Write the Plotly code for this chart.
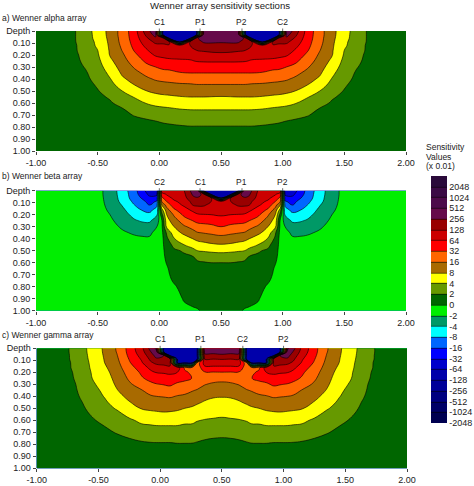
import numpy as np
import plotly.graph_objects as go

# Sensitivity values are stored as band positions:
# 0 -> 0, 1 -> 2, 2 -> 4, 3 -> 8 ... 11 -> 2048 and the same for negatives
depths = [0, .03, .06, .09, .12, .16, .2, .25, .3, .35, .4, .45, .5, .55, .6, .65, .7, .75, .8, .9, 1]

level_labels = ['-2048', '-1024', '-512', '-256', '-128', '-64', '-32', '-16', '-8', '-4', '-2', '0',
                '2', '4', '8', '16', '32', '64', '128', '256', '512', '1024', '2048']
band_colors = ['#000050', '#000066', '#000080', '#000099', '#0000aa', '#0000cc', '#0000ff',
               '#0066ff', '#00ffff', '#009966', '#00ee00', '#006600', '#669900', '#ffff00', '#a86a00',
               '#ff6600', '#ff0000', '#cc0000', '#990000', '#660a4a', '#4d0a4a', '#3b0a45', '#2a0a3a']

x_ticks = [-1, -.5, 0, .5, 1, 1.5, 2]
x_ticktext = ['-1.00', '-0.50', '0.00', '0.50', '1.00', '1.50', '2.00']
y_ticks = [0, .1, .2, .3, .4, .5, .6, .7, .8, .9, 1]
y_ticktext = ['Depth', '0.10', '0.20', '0.30', '0.40', '0.50', '0.60', '0.70', '0.80', '0.90', '1.00']

electrode_x = [0, .33, .67, 1]
alpha_electrodes = ['C1', 'P1', 'P2', 'C2']
beta_electrodes = ['C2', 'C1', 'P1', 'P2']
gamma_electrodes = ['C1', 'P1', 'C2', 'P2']

# left half of each section, one list per x position, top to bottom
alpha_x = [-1, -.8, -.7, -.6, -.5, -.4, -.3, -.2, -.1, -.03, .03, .08, .165, .25, .30, .36, .5]
alpha_cols = [
    [.45, .45, .45, .45, .45, .45, .45, .45, .4, .4, .4, .4, .4, .4, .4, .35, .35, .35, .35, .3, .3],
    [.6, .6, .6, .6, .6, .55, .55, .55, .5, .5, .5, .45, .45, .45, .45, .4, .4, .4, .4, .35, .35],
    [.85, .85, .85, .85, .8, .8, .75, .7, .65, .6, .55, .5, .5, .5, .45, .45, .4, .4, .4, .35, .35],
    [1.55, 1.55, 1.55, 1.5, 1.45, 1.4, 1.3, 1.2, 1.05, .9, .8, .7, .6, .55, .5, .5, .45, .45, .4, .35, .35],
    [2.4, 2.35, 2.3, 2.2, 2.15, 2.0, 1.9, 1.75, 1.6, 1.45, 1.3, 1.1, .95, .8, .7, .6, .55, .5, .45, .4, .35],
    [3.3, 3.3, 3.25, 3.2, 3.15, 3.1, 3.05, 2.8, 2.5, 2.2, 1.95, 1.67, 1.39, 1.1, .9, .75, .65, .55, .5, .4, .35],
    [4.4, 4.4, 4.35, 4.3, 4.2, 4.05, 3.85, 3.6, 3.4, 3.15, 2.85, 2.45, 2.0, 1.65, 1.3, .95, .8, .65, .55, .45, .4],
    [5.6, 5.55, 5.5, 5.4, 5.3, 5.1, 4.8, 4.5, 4.1, 3.75, 3.35, 3.0, 2.55, 2.05, 1.7, 1.35, 1.05, .8, .65, .5, .4],
    [7.6, 7.3, 6.9, 6.6, 6.3, 5.95, 5.65, 5.2, 4.75, 4.25, 3.85, 3.45, 3.0, 2.5, 2.05, 1.7, 1.25, .9, .7, .5, .4],
    [8.8, 8.4, 7.8, 7.2, 6.8, 6.4, 6.1, 5.55, 5.0, 4.5, 4.1, 3.65, 3.2, 2.7, 2.2, 1.8, 1.35, 1.0, .75, .5, .4],
    [-6, -6, 7.9, 7.2, 6.85, 6.5, 6.2, 5.75, 5.2, 4.7, 4.2, 3.75, 3.3, 2.8, 2.3, 1.85, 1.5, 1.1, .8, .5, .4],
    [-6, -6, -6, 7.3, 6.9, 6.55, 6.3, 5.8, 5.25, 4.75, 4.25, 3.8, 3.35, 2.85, 2.35, 1.9, 1.55, 1.15, .85, .5, .4],
    [-6, -6, -6, -6, 7.0, 6.6, 6.35, 5.85, 5.35, 4.95, 4.4, 3.85, 3.4, 2.95, 2.45, 2.0, 1.6, 1.25, .9, .5, .4],
    [-6, -6, -6, 7.2, 7.0, 6.7, 6.4, 5.9, 5.35, 5.0, 4.4, 3.9, 3.45, 3.0, 2.5, 2.05, 1.65, 1.3, .95, .55, .4],
    [-6, -6, 7.8, 7.6, 7.35, 7.0, 6.6, 6.05, 5.4, 5.0, 4.45, 3.95, 3.5, 3.0, 2.5, 2.05, 1.7, 1.3, .95, .55, .4],
    [9, 8.8, 8.5, 8.1, 7.7, 7.1, 6.7, 6.1, 5.45, 5.0, 4.5, 3.95, 3.5, 3.0, 2.5, 2.05, 1.7, 1.3, .95, .55, .4],
    [8.9, 8.7, 8.4, 8.1, 7.7, 7.2, 6.8, 6.1, 5.5, 5.0, 4.5, 3.95, 3.5, 2.95, 2.55, 2.05, 1.7, 1.3, .95, .55, .4],
]

beta_x = [-1, -.6, -.47, -.4, -.3, -.2, -.14, -.08, -.02, .02, .06, .12, .2, .27, .31, .36, .42, .5]
beta_cols = [
    [-.3, -.3, -.3, -.3, -.3, -.3, -.3, -.3, -.3, -.3, -.3, -.3, -.3, -.3, -.3, -.3, -.3, -.3, -.3, -.3, -.3],
    [-.5, -.5, -.5, -.5, -.45, -.45, -.45, -.4, -.4, -.35, -.35, -.35, -.3, -.3, -.3, -.3, -.3, -.3, -.3, -.3, -.3],
    [-.9, -.9, -.88, -.85, -.8, -.75, -.7, -.65, -.6, -.55, -.5, -.45, -.4, -.4, -.35, -.35, -.3, -.3, -.3, -.3, -.3],
    [-1.45, -1.45, -1.4, -1.35, -1.3, -1.15, -1.0, -.85, -.75, -.65, -.6, -.5, -.45, -.4, -.35, -.35, -.3, -.3, -.3, -.3, -.3],
    [-2.45, -2.4, -2.35, -2.25, -2.05, -1.8, -1.6, -1.35, -1.1, -.9, -.75, -.65, -.55, -.5, -.45, -.4, -.35, -.3, -.3, -.3, -.3],
    [-3.7, -3.6, -3.5, -3.25, -3.0, -2.65, -2.3, -1.9, -1.5, -1.1, -.85, -.7, -.6, -.5, -.45, -.4, -.35, -.3, -.3, -.3, -.3],
    [-4.6, -4.45, -4.1, -3.75, -3.45, -3.05, -2.6, -2.1, -1.6, -1.15, -.9, -.7, -.6, -.5, -.45, -.4, -.35, -.3, -.3, -.3, -.3],
    [-5.6, -5.2, -4.8, -4.3, -4.0, -3.3, -2.75, -2.15, -1.6, -1.15, -.9, -.7, -.6, -.5, -.45, -.4, -.35, -.3, -.3, -.3, -.3],
    [-6, -5.2, -4.5, -3.9, -3.2, -2.6, -2.1, -1.5, -1.0, -.75, -.6, -.5, -.4, -.35, -.3, -.3, -.25, -.25, -.25, -.25, -.25],
    [6.5, 5.5, 4.8, 4.1, 3.0, 1.6, .7, -.1, -.2, -.25, -.3, -.3, -.3, -.3, -.3, -.3, -.3, -.3, -.3, -.3, -.3],
    [6.6, 6.1, 5.6, 5.0, 4.4, 3.6, 3.0, 2.6, 2.2, 1.15, .8, .55, .35, .2, .05, -.1, -.2, -.25, -.3, -.3, -.3],
    [6.9, 6.6, 6.25, 5.85, 5.5, 4.85, 4.15, 3.55, 3.0, 2.6, 1.95, 1.25, .85, .7, .55, .4, .3, .1, -.1, -.25, -.3],
    [6.95, 6.8, 6.65, 6.35, 6.15, 5.6, 5.2, 4.55, 3.85, 3.2, 2.6, 2.0, 1.1, .85, .75, .65, .55, .4, .3, .05, -.15],
    [8.4, 8.1, 7.8, 7.3, 7.0, 6.2, 5.6, 5.0, 4.3, 3.65, 3.0, 2.4, 1.7, .95, .85, .75, .65, .55, .45, .2, -.1],
    [8.8, 8.5, 7.9, 7.5, 7.15, 6.45, 5.9, 5.25, 4.6, 3.95, 3.25, 2.6, 2.0, 1.2, .9, .8, .7, .6, .5, .25, -.05],
    [-6, 7.6, 7.5, 7.3, 7.1, 6.6, 5.95, 5.3, 4.7, 4.05, 3.4, 2.7, 2.1, 1.3, .95, .85, .75, .65, .55, .35, .1],
    [-6, -6, 7.2, 7.0, 6.75, 6.4, 6.0, 5.35, 4.8, 4.15, 3.55, 2.85, 2.2, 1.4, 1.0, .9, .8, .7, .6, .4, .2],
    [-6, -6, -6, 6.95, 6.7, 6.35, 6.1, 5.6, 5.0, 4.3, 3.65, 2.95, 2.25, 1.5, 1.0, .9, .8, .7, .6, .4, .2],
]

gamma_x = [-1, -.8, -.75, -.65, -.55, -.45, -.35, -.25, -.15, -.08, -.03, .03, .08, .14, .2, .26, .3, .36, .43, .5]
gamma_cols = [
    [.45, .45, .45, .45, .45, .45, .45, .45, .4, .4, .4, .4, .4, .4, .4, .35, .35, .35, .35, .3, .3],
    [.6, .6, .6, .55, .55, .5, .5, .45, .45, .4, .4, .4, .35, .35, .35, .3, .3, .3, .3, .3, .3],
    [.92, .92, .9, .9, .85, .85, .8, .75, .7, .65, .6, .55, .5, .5, .45, .45, .4, .4, .4, .35, .35],
    [1.6, 1.6, 1.55, 1.5, 1.45, 1.4, 1.3, 1.25, 1.15, 1.1, 1.03, .9, .8, .7, .6, .55, .5, .45, .45, .4, .35],
    [2.33, 2.3, 2.28, 2.25, 2.2, 2.15, 2.08, 2.0, 1.85, 1.7, 1.55, 1.4, 1.25, 1.08, .9, .75, .65, .55, .5, .45, .4],
    [3.17, 3.15, 3.1, 3.05, 3.0, 2.85, 2.7, 2.55, 2.4, 2.2, 2.05, 1.85, 1.65, 1.45, 1.25, 1.0, .85, .7, .6, .5, .4],
    [4.1, 4.05, 3.95, 3.85, 3.75, 3.6, 3.45, 3.3, 3.15, 2.95, 2.7, 2.4, 2.1, 1.75, 1.5, 1.25, 1.05, .85, .7, .55, .45],
    [5.34, 5.3, 5.2, 5.05, 4.9, 4.65, 4.4, 4.15, 3.85, 3.55, 3.25, 2.95, 2.6, 2.25, 1.85, 1.6, 1.3, 1.0, .8, .6, .45],
    [6.75, 6.6, 6.35, 6.1, 5.9, 5.45, 5.15, 4.9, 4.45, 3.95, 3.7, 3.35, 3.05, 2.7, 2.2, 1.85, 1.5, 1.15, .85, .6, .45],
    [8.3, 7.9, 7.5, 7.15, 6.85, 6.25, 5.75, 5.25, 4.8, 4.35, 3.9, 3.55, 3.15, 2.75, 2.3, 1.9, 1.55, 1.2, .9, .6, .45],
    [9.2, 8.8, 8.35, 7.85, 7.2, 6.6, 6.05, 5.5, 4.95, 4.5, 4.0, 3.6, 3.2, 2.8, 2.35, 1.95, 1.6, 1.25, .9, .6, .45],
    [-6, -6, 8.0, 7.8, 7.3, 6.7, 6.1, 5.55, 5.05, 4.55, 4.05, 3.65, 3.25, 2.85, 2.4, 1.95, 1.6, 1.25, .9, .6, .45],
    [-6, -6, -6, 7.6, 7.3, 6.85, 6.2, 5.6, 5.15, 4.6, 4.1, 3.65, 3.25, 2.8, 2.4, 1.95, 1.6, 1.25, .9, .6, .45],
    [-6, -6, -6, -6, -6, 6.55, 6.0, 5.4, 4.85, 4.4, 3.95, 3.55, 3.15, 2.75, 2.35, 1.95, 1.6, 1.25, .95, .6, .45],
    [-6, -6, -6, -6, -6, 4.7, 5.25, 5.2, 4.75, 4.3, 3.85, 3.4, 3.0, 2.7, 2.25, 1.85, 1.55, 1.25, .95, .6, .45],
    [-6, -6, -6, -6, -6, 4.35, 4.7, 4.98, 4.5, 4.05, 3.75, 3.35, 2.85, 2.55, 2.2, 1.85, 1.5, 1.2, .95, .6, .45],
    [-6, -6, -6, -6, 4.3, 4.3, 4.5, 4.55, 4.3, 3.95, 3.6, 3.15, 2.7, 2.4, 2.05, 1.75, 1.45, 1.15, .9, .6, .45],
    [9, 8.3, 7.7, 7.0, 6.4, 5.8, 4.9, 4.45, 4.05, 3.65, 3.3, 2.9, 2.6, 2.3, 1.95, 1.65, 1.4, 1.05, .85, .6, .45],
    [8.8, 8.3, 7.7, 7.0, 6.4, 5.85, 4.95, 4.4, 3.85, 3.5, 3.1, 2.75, 2.45, 2.2, 1.9, 1.55, 1.3, 1.0, .85, .6, .45],
    [8.9, 8.4, 7.8, 7.05, 6.4, 5.85, 4.97, 4.3, 3.8, 3.4, 3.05, 2.75, 2.45, 2.15, 1.85, 1.55, 1.25, .97, .8, .6, .45],
]

FONT = 'Liberation Sans'
TEXT = '#222222'
W, H = 474, 486
panels = [
    ('a) Wenner alpha array', alpha_x, alpha_cols, alpha_electrodes, 36, 406, 31, 151, 18),
    ('b) Wenner beta array', beta_x, beta_cols, beta_electrodes, 36, 406, 190.7, 310.7, 176),
    ('c) Wenner gamma array', gamma_x, gamma_cols, gamma_electrodes, 36.7, 407, 348.3, 468.3, 335),
]

# stepped colour scale, one flat block per band
colorscale = []
for i, c in enumerate(band_colors):
    colorscale.append([i / len(band_colors), c])
    colorscale.append([(i + 1) / len(band_colors), c])

fig = go.Figure()
for n, (title, xs, cols, labels, left, right, top, bottom, title_y) in enumerate(panels):
    half = np.array(cols).T
    z = np.hstack([half, half[:, -2::-1]])
    x = list(xs) + [1 - v for v in xs[-2::-1]]
    suffix = '' if n == 0 else str(n + 1)
    fig.add_trace(go.Contour(
        x=x, y=depths, z=z, xaxis='x' + suffix, yaxis='y' + suffix,
        zmin=-11, zmax=12, colorscale=colorscale,
        autocontour=False, contours=dict(start=-10, end=11, size=1, coloring='fill'),
        line=dict(color='black', width=0.6, smoothing=1.3),
        hoverinfo='skip',
        showscale=n == 0,
        colorbar=dict(lenmode='pixels', len=246.5, thicknessmode='pixels', thickness=16,
                      x=431 / W, xanchor='left', y=1 - 176 / H, yanchor='top', xpad=0, ypad=0,
                      outlinewidth=0, ticks='', tickmode='array',
                      tickvals=list(range(-11, 12)), ticktext=level_labels,
                      tickfont=dict(family=FONT, size=9, color=TEXT)),
    ))
    fig.update_layout({
        'xaxis' + suffix: dict(domain=[left / W, right / W], range=[-1, 2], anchor='y' + suffix,
                               tickvals=x_ticks, ticktext=x_ticktext, ticks='outside', ticklen=3,
                               tickwidth=0.7, tickcolor='#444444', showgrid=False, zeroline=False,
                               showline=False, tickfont=dict(family=FONT, size=9, color=TEXT)),
        'yaxis' + suffix: dict(domain=[1 - bottom / H, 1 - top / H], range=[1, 0], anchor='x' + suffix,
                               tickvals=y_ticks, ticktext=y_ticktext, ticks='outside', ticklen=3,
                               tickwidth=0.7, tickcolor='#444444', showgrid=False, zeroline=False,
                               showline=False, tickfont=dict(family=FONT, size=9, color=TEXT)),
    })
    fig.add_annotation(text=title, xref='paper', yref='paper', x=0, y=1 - title_y / H,
                       xanchor='left', yanchor='middle', showarrow=False,
                       font=dict(family=FONT, size=8.5, color=TEXT))
    for ex, lab in zip(electrode_x, labels):
        fig.add_annotation(text=lab, x=ex, y=0, xref='x' + suffix, yref='y' + suffix,
                           showarrow=True, arrowhead=0, arrowwidth=0.7, arrowcolor='#333333',
                           ax=0, ay=-9, font=dict(family=FONT, size=8.5, color=TEXT))
    # little tick on the right edge at mid depth
    fig.add_shape(type='line', xref='x' + suffix, yref='y' + suffix, x0=2, x1=2.04, y0=.5, y1=.5,
                  line=dict(color='#444444', width=0.7))

fig.add_annotation(text='Wenner array sensitivity sections', xref='paper', yref='paper',
                   x=220 / W, y=1 - 5 / H, xanchor='center', yanchor='middle', showarrow=False,
                   font=dict(family=FONT, size=9.6, color=TEXT))
for line, line_y in zip(['Sensitivity', 'Values', '(x 0.01)'], [147.3, 156.7, 166]):
    fig.add_annotation(text=line, xref='paper', yref='paper', x=424 / W, y=1 - line_y / H,
                       xanchor='left', yanchor='middle', showarrow=False,
                       font=dict(family=FONT, size=8.5, color=TEXT))

fig.update_layout(width=W, height=H, autosize=False,
                  margin=dict(l=0, r=0, t=0, b=0, pad=0, autoexpand=False),
                  paper_bgcolor='white', plot_bgcolor='white', showlegend=False)

fig.write_html("out.html", config={'displayModeBar': False},
               post_script="document.body.style.margin='0';")
